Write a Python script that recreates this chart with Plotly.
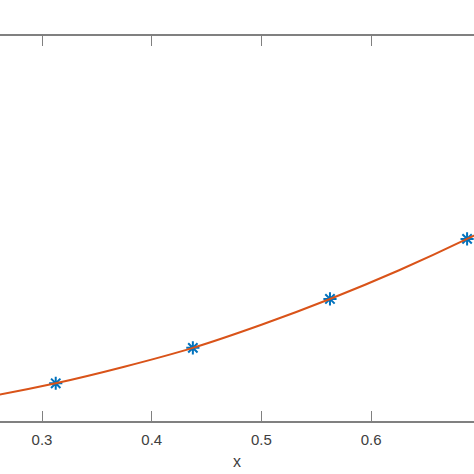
import plotly.graph_objects as go

# sample points (markers)
x_pts = [0.1875, 0.3125, 0.4375, 0.5625, 0.6875, 0.8125]
y_pts = [0.035, 0.098, 0.190, 0.317, 0.473, 0.660]

# points along the orange curve
x_line = [0.1875, 0.25, 0.3125, 0.375, 0.4375, 0.5, 0.5625, 0.625, 0.6875, 0.75, 0.8125]
y_line = [0.035, 0.063, 0.098, 0.141, 0.190, 0.250, 0.317, 0.391, 0.473, 0.563, 0.660]

x_ticks = [0.3, 0.4, 0.5, 0.6, 0.7]

axis_grey = 'rgb(128, 128, 128)'
text_grey = 'rgb(64, 64, 64)'

fig = go.Figure()

fig.add_trace(go.Scatter(
    x=x_pts, y=y_pts,
    mode='markers',
    marker=dict(symbol='asterisk-open', size=11, color='rgb(0, 114, 189)',
                line=dict(width=2, color='rgb(0, 114, 189)')),
    cliponaxis=False,
))

fig.add_trace(go.Scatter(
    x=x_line, y=y_line,
    mode='lines',
    line=dict(color='rgb(217, 83, 25)', width=2, shape='spline'),
))

fig.update_layout(
    width=474,
    height=474,
    margin=dict(l=0, r=0, t=36, b=53, autoexpand=False),
    paper_bgcolor='white',
    plot_bgcolor='white',
    showlegend=False,
    font=dict(family='Liberation Sans, Arial', color=text_grey, size=15),
    xaxis=dict(
        range=[0.2617, 0.6938],
        tickvals=x_ticks,
        ticktext=[f'{t:.1f}' for t in x_ticks],
        ticks='inside', ticklen=10, tickwidth=1, tickcolor=axis_grey,
        showline=True, linecolor=axis_grey, linewidth=1.5, mirror='ticks',
        showgrid=False, zeroline=False,
        automargin=False,
        ticklabelstandoff=4,
        title=dict(text='x', standoff=9, font=dict(size=16, color=text_grey)),
    ),
    yaxis=dict(
        range=[0, 1],
        visible=False,
    ),
)

# the page body has an 8px default margin; drop it so the figure fills the window
fig.write_html('out.html', config={'displayModeBar': False},
               post_script="document.body.style.margin='0';")
